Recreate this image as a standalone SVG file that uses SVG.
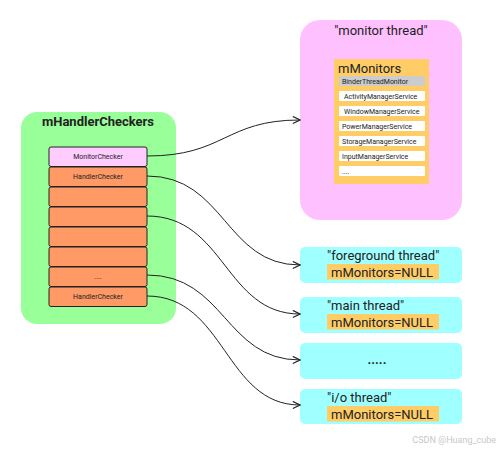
<svg xmlns="http://www.w3.org/2000/svg" width="500" height="450" viewBox="0 0 500 450">
<defs>
<marker id="arr" viewBox="0 0 10 10" refX="9" refY="5" markerWidth="9" markerHeight="9" markerUnits="userSpaceOnUse" orient="auto">
<path d="M1,1 L9,5 L1,9" fill="none" stroke="#222" stroke-width="1.3"/>
</marker>
<style>
text{font-family:Roboto,"Liberation Sans",sans-serif;fill:#222}
.cell{fill:#FF9966;stroke:#222;stroke-width:1}
.ct{font-size:7px;text-anchor:middle}
.item{fill:#fff}
.it{font-size:7px}
.thr{fill:#A0FFFF}
.tt{font-size:13px}
.null{fill:#FFCC66}
.conn{fill:none;stroke:#222;stroke-width:1}
</style>
</defs>
<rect width="500" height="450" fill="#fff"/>

<g id="mHandlerCheckers">
<rect x="21" y="112" width="155" height="212" rx="16" fill="#99FF99"/>
<text x="98" y="126" font-size="13" font-weight="bold" text-anchor="middle">mHandlerCheckers</text>
</g>
<g id="cell-monitor">
<rect x="49" y="147" width="98" height="19.5" rx="2" fill="#FFCCFF" stroke="#222"/>
<text class="ct" x="98" y="159">MonitorChecker</text>
</g>
<g id="cell-handler1"><rect class="cell" x="49" y="167" width="98" height="19.5" rx="2"/><text class="ct" x="98" y="179">HandlerChecker</text></g>
<g id="cell-3"><rect class="cell" x="49" y="187" width="98" height="19.5" rx="2"/></g>
<g id="cell-4"><rect class="cell" x="49" y="207" width="98" height="19.5" rx="2"/></g>
<g id="cell-5"><rect class="cell" x="49" y="227" width="98" height="19.5" rx="2"/></g>
<g id="cell-6"><rect class="cell" x="49" y="247" width="98" height="19.5" rx="2"/></g>
<g id="cell-dots"><rect class="cell" x="49" y="267" width="98" height="19.5" rx="2"/><text class="ct" x="98" y="279">....</text></g>
<g id="cell-handler-last"><rect class="cell" x="49" y="287" width="98" height="19.5" rx="2"/><text class="ct" x="98" y="299">HandlerChecker</text></g>

<g id="monitor-thread">
<rect x="300" y="20" width="162" height="200" rx="20" fill="#FFC0FF"/>
<text class="tt" x="381" y="35" text-anchor="middle">"monitor thread"</text>
<rect x="334" y="59" width="95" height="125" fill="#FFCC66"/>
<text x="338" y="73" font-size="13">mMonitors</text>
<rect x="339" y="76" width="86" height="10" fill="#CCCCCC"/>
<text class="it" x="342" y="84">BinderThreadMonitor</text>
<rect class="item" x="339" y="91" width="86" height="10" rx="1"/>
<text class="it" x="344" y="99">ActivityManagerService</text>
<rect class="item" x="339" y="106" width="86" height="10" rx="1"/>
<text class="it" x="344" y="114">WindowManagerService</text>
<rect class="item" x="339" y="121" width="86" height="10" rx="1"/>
<text class="it" x="342" y="129">PowerManagerService</text>
<rect class="item" x="339" y="136" width="86" height="10" rx="1"/>
<text class="it" x="342" y="144">StorageManagerService</text>
<rect class="item" x="339" y="151" width="86" height="10" rx="1"/>
<text class="it" x="342" y="159">InputManagerService</text>
<rect class="item" x="339" y="166" width="86" height="10" rx="1"/>
<text class="it" x="342" y="174">....</text>
</g>

<g id="foreground-thread">
<rect class="thr" x="300" y="247" width="162" height="36" rx="5"/>
<text class="tt" x="327" y="260">"foreground thread"</text>
<rect class="null" x="327" y="264" width="112" height="15.5"/>
<text class="tt" x="331" y="277">mMonitors=NULL</text>
</g>
<g id="main-thread">
<rect class="thr" x="300" y="297" width="162" height="36" rx="5"/>
<text class="tt" x="327" y="310">"main thread"</text>
<rect class="null" x="327" y="314" width="112" height="15.5"/>
<text class="tt" x="331" y="327">mMonitors=NULL</text>
</g>
<g id="dots-thread">
<rect class="thr" x="300" y="343" width="162" height="36" rx="5"/>
<text class="tt" x="377" y="364" font-weight="bold" text-anchor="middle">.....</text>
</g>
<g id="io-thread">
<rect class="thr" x="300" y="389" width="162" height="35" rx="5"/>
<text class="tt" x="327" y="402">"i/o thread"</text>
<rect class="null" x="327" y="406" width="112" height="15.5"/>
<text class="tt" x="331" y="419">mMonitors=NULL</text>
</g>

<g id="connectors">
<path class="conn" marker-end="url(#arr)" d="M147,156 C225,156 225,120 300,120"/>
<path class="conn" marker-end="url(#arr)" d="M147,176 C225,176 225,265 300,265"/>
<path class="conn" marker-end="url(#arr)" d="M147,216 C225,216 225,314 300,314"/>
<path class="conn" marker-end="url(#arr)" d="M147,275 C225,275 225,360 300,360"/>
<path class="conn" marker-end="url(#arr)" d="M147,296 C225,296 225,405 300,405"/>
</g>

<text x="496" y="443" font-size="9" text-anchor="end" style="fill:#c8c8c8">CSDN @Huang_cube</text>
</svg>
